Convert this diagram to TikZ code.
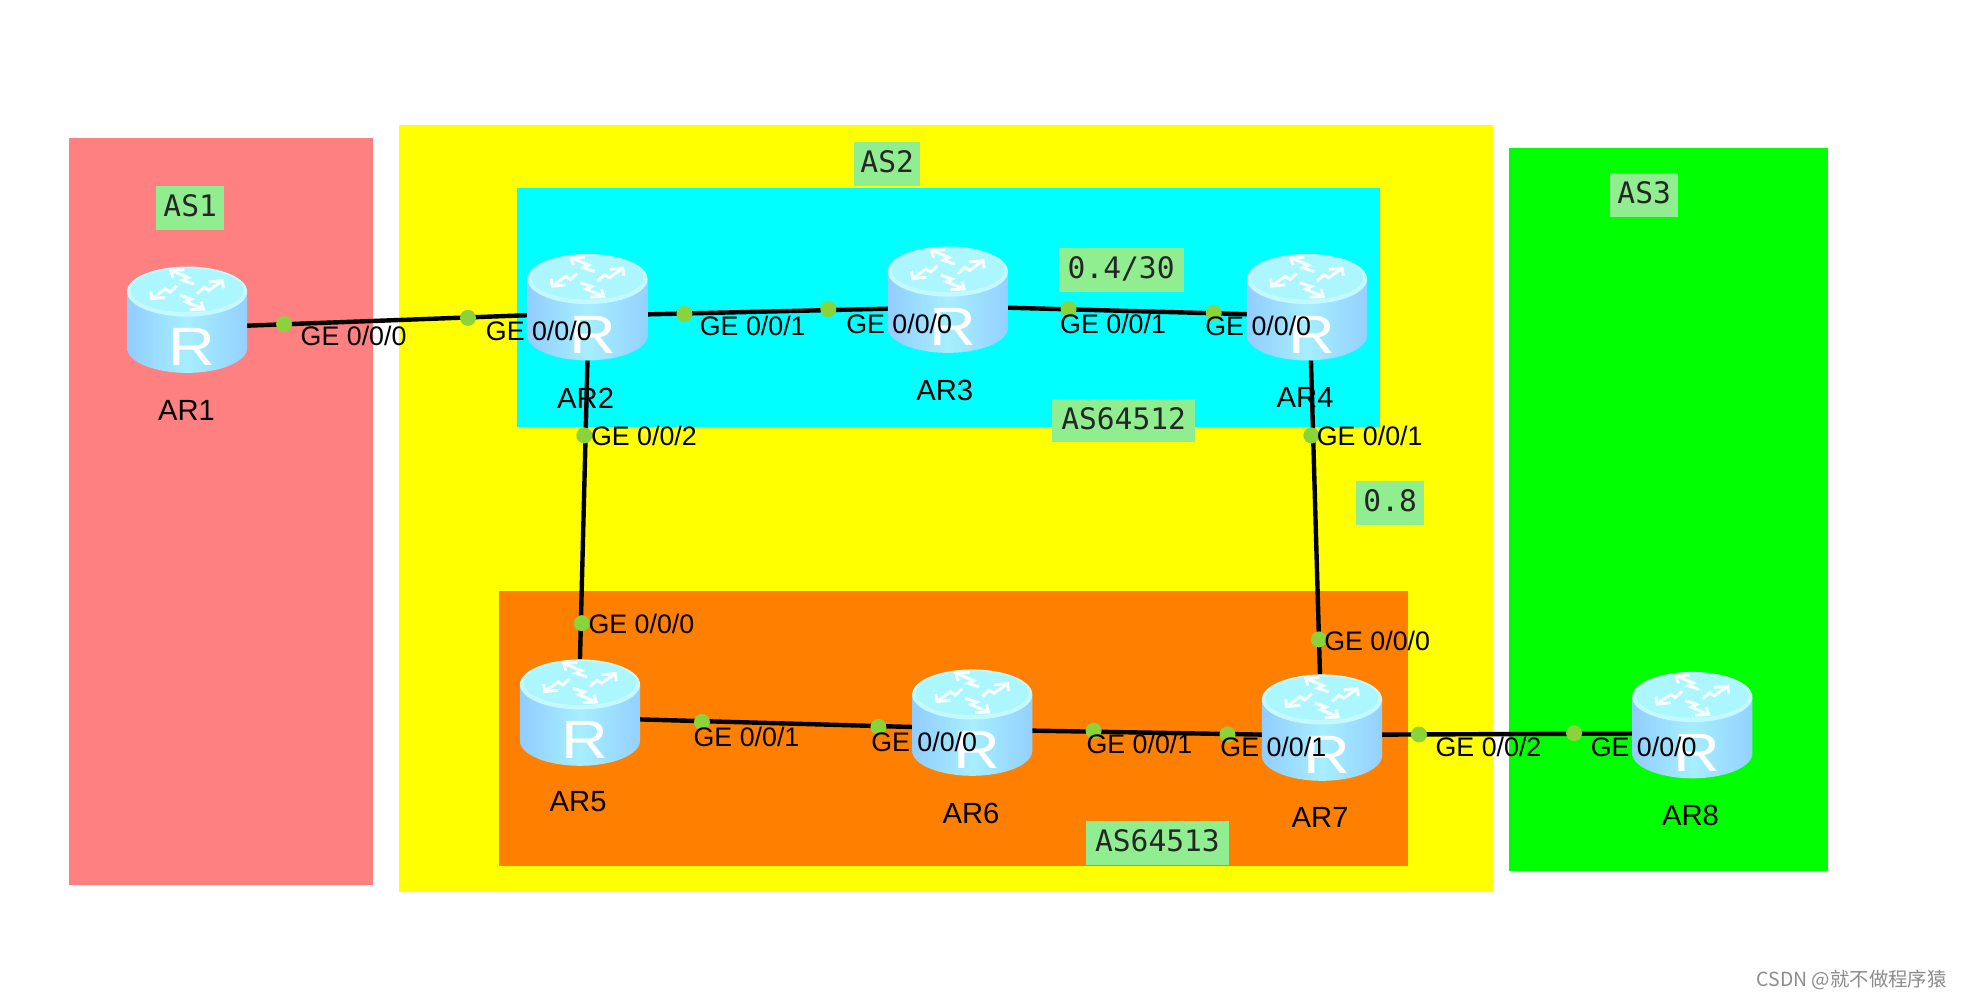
\documentclass[tikz,border=0pt]{standalone}
\usepackage{fontspec}
\setmainfont{Liberation Sans}
\newfontfamily\labelmono{DejaVu Sans Mono}
\newfontfamily\cjkfont{Noto Sans CJK SC}
\usetikzlibrary{calc}
\definecolor{asred}{HTML}{FF8080}
\definecolor{asyellow}{HTML}{FFFF00}
\definecolor{ascyan}{HTML}{00FFFF}
\definecolor{asorange}{HTML}{FF8000}
\definecolor{asgreen}{HTML}{00FF00}
\definecolor{notegreen}{HTML}{90EE90}
\definecolor{portgreen}{HTML}{8AD33A}
\definecolor{rtop}{HTML}{ACF6FF}
\definecolor{rrim}{HTML}{C4FAFF}
\definecolor{bodya}{HTML}{B4ECFF}
\definecolor{bodyb}{HTML}{92CDFF}
\definecolor{bodyc}{HTML}{A6EEFF}
\pgfdeclarehorizontalshading{routerbody}{100bp}{
  color(0bp)=(bodya);
  color(25bp)=(bodyb);
  color(50bp)=(bodyc);
  color(78bp)=(bodyb);
  color(100bp)=(bodya)}
\tikzset{
  x=0.62565pt,y=-0.62565pt,
  zone/.style={fill=#1,draw=none},
  routerbox/.style={minimum width=59.4pt,minimum height=53.2pt,inner sep=0pt,outer sep=0pt},
  link/.style={draw=black,line width=2.2pt},
  portdot/.style={circle,fill=portgreen,draw=none,minimum size=8pt,inner sep=0pt},
  portlabel/.style={font=\fontsize{13.4pt}{14pt}\selectfont,text=black,anchor=mid west,inner sep=0pt},
  rname/.style={font=\fontsize{14.6pt}{15pt}\selectfont,text=black,inner sep=0pt},
  note/.style={fill=notegreen,font=\labelmono\fontsize{14.8pt}{15pt}\selectfont,text=black!85,inner sep=0pt,text height=11pt,text depth=2.4pt},
  rarrow/.style={draw=white,draw opacity=0.9,line width=1.5pt,line join=miter},
  pics/routericon/.style={code={
    \path[shade,shading=routerbody] (-48,-22.5) -- (48,-22.5) -- (48,22.5) arc[start angle=0,end angle=180,x radius=48,y radius=20] -- cycle;
    \fill[rrim] (0,-22.5) ellipse[x radius=48,y radius=20];
    \fill[rtop] (0,-23.5) ellipse[x radius=45,y radius=17.5];
    \begin{scope}[shift={(0,-24)},yscale=0.55]
      \foreach \a in {10,100,190,280}{
        \begin{scope}[rotate=\a]
          \draw[rarrow] (7,7) -- (14,-1) -- (17,4) -- (28,-6);
          \draw[rarrow] (19,-8) -- (30,-8) -- (29,3);
        \end{scope}
      }
    \end{scope}
    \node[inner sep=0pt,text=white,xscale=1.2,font=\fontsize{27pt}{27pt}\selectfont] (#1) at (4,22) {R};
  }}
}
\begin{document}
\begin{tikzpicture}
\useasboundingbox (0,0) rectangle (1568,799);
\fill[white] (0,0) rectangle (1568,799);
% zones
\fill[zone=asred] (55,110) rectangle (298,707);
\fill[zone=asyellow] (319,100) rectangle (1193,713);
\fill[zone=ascyan] (413,150) rectangle (1103,341);
\fill[zone=asorange] (399,472) rectangle (1125,692);
\fill[zone=asgreen] (1206,118) rectangle (1461,696);
% router anchors
\node[routerbox] (r1) at (149.5,255.5) {};
\node[routerbox] (r2) at (469.5,245.5) {};
\node[routerbox] (r3) at (757.5,239.5) {};
\node[routerbox] (r4) at (1044.5,245.5) {};
\node[routerbox] (r5) at (463.5,569.5) {};
\node[routerbox] (r6) at (777,577.5) {};
\node[routerbox] (r7) at (1056.5,581.5) {};
\node[routerbox] (r8) at (1352.5,579.5) {};
% links
\draw[link] ([yshift=-3pt]r1.east) -- ([yshift=-4pt]r2.west);
\draw[link] ([yshift=-3.6pt]r2.east) -- ([yshift=-4.5pt]r3.west);
\draw[link] ([yshift=-4pt]r3.east) -- ([yshift=-3.5pt]r4.west);
\draw[link] (r2.south) -- (r5.north);
\draw[link] ([xshift=2pt]r4.south) -- ([xshift=-1pt]r7.north);
\draw[link] ([yshift=-3.4pt]r5.east) -- ([yshift=-2.2pt]r6.west);
\draw[link] ([yshift=-4pt]r6.east) -- ([yshift=-3.5pt]r7.west);
\draw[link] ([yshift=-3.5pt]r7.east) -- ([yshift=-4.2pt]r8.west);
% routers
\foreach \n in {r1,r2,r3,r4,r5,r6,r7,r8}{
  \pic at (\n) {routericon={\n R}};
}
% port dots
\node[portdot] (d1) at (227,259) {};
\node[portdot] (d2) at (374,254) {};
\node[portdot] (d3) at (547,251) {};
\node[portdot] (d4) at (662,247) {};
\node[portdot] (d5) at (854,247) {};
\node[portdot] (d6) at (970,250) {};
\node[portdot] (d7) at (467,348) {};
\node[portdot] (d8) at (465,498) {};
\node[portdot] (d9) at (1048,348) {};
\node[portdot] (d10) at (1054,511) {};
\node[portdot] (d11) at (561,577) {};
\node[portdot] (d12) at (702,581) {};
\node[portdot] (d13) at (874,584) {};
\node[portdot] (d14) at (981,587) {};
\node[portdot] (d15) at (1134,587) {};
\node[portdot] (d16) at (1258,586) {};
% port labels
\node[portlabel] (p1) at (240,272) {GE 0/0/0};
\node[portlabel] (p2) at (388,268) {GE 0/0/0};
\node[portlabel] (p3) at (559,264) {GE 0/0/1};
\node[portlabel] (p4) at (676,262) {GE 0/0/0};
\node[portlabel] (p5) at (847,262) {GE 0/0/1};
\node[portlabel] (p6) at (963,264) {GE 0/0/0};
\node[portlabel] (p7) at (472,352) {GE 0/0/2};
\node[portlabel] (p8) at (470,502) {GE 0/0/0};
\node[portlabel] (p9) at (1052,352) {GE 0/0/1};
\node[portlabel] (p10) at (1058,516) {GE 0/0/0};
\node[portlabel] (p11) at (554,592) {GE 0/0/1};
\node[portlabel] (p12) at (696,596) {GE 0/0/0};
\node[portlabel] (p13) at (868,598) {GE 0/0/1};
\node[portlabel] (p14) at (975,600) {GE 0/0/1};
\node[portlabel] (p15) at (1147,600) {GE 0/0/2};
\node[portlabel] (p16) at (1271,600) {GE 0/0/0};
% router names
\node[rname] (n1) at (149,328) {AR1};
\node[rname] (n2) at (468,318) {AR2};
\node[rname] (n3) at (755,312) {AR3};
\node[rname] (n4) at (1043,318) {AR4};
\node[rname] (n5) at (462,641) {AR5};
\node[rname] (n6) at (776,650) {AR6};
\node[rname] (n7) at (1055,653) {AR7};
\node[rname] (n8) at (1351,652) {AR8};
% notes
\node[note,minimum width=33.8pt,minimum height=21.9pt] (a1) at (152,166) {AS1};
\node[note,minimum width=33.2pt,minimum height=21.9pt] (a2) at (709,131) {AS2};
\node[note,minimum width=33.8pt,minimum height=21.9pt] (a3) at (1314,156) {AS3};
\node[note,minimum width=62.5pt,minimum height=21.9pt] (a4) at (896,216) {0.4/30};
\node[note,minimum width=71.3pt,minimum height=21.9pt] (a5) at (898,336) {AS64512};
\node[note,minimum width=33.8pt,minimum height=21.9pt] (a6) at (1111,402) {0.8};
\node[note,minimum width=71.3pt,minimum height=21.9pt] (a7) at (925,674) {AS64513};
% watermark
\node[anchor=east,inner sep=0pt,text=black!45,font=\cjkfont\fontsize{9.7pt}{10pt}\selectfont] (wm) at (1556,783) {CSDN @就不做程序猿};
\end{tikzpicture}
\end{document}
